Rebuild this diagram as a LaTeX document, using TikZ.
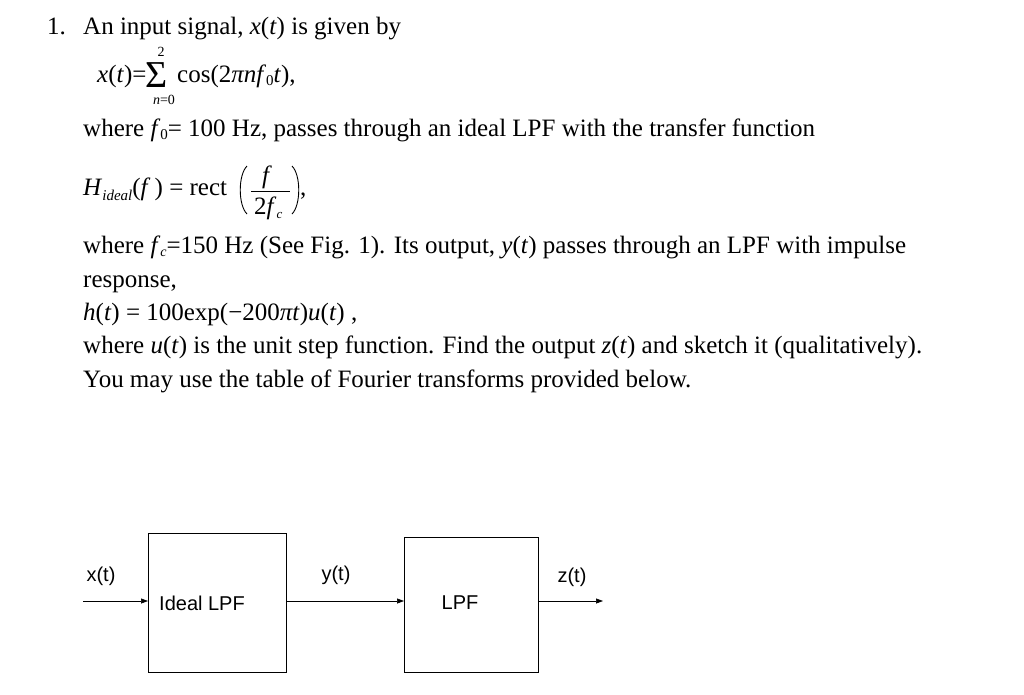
\documentclass[tikz,border=0pt]{standalone}
\usepackage{fontspec}
\setmainfont{Liberation Serif}
\setsansfont{Liberation Sans}
\usetikzlibrary{arrows.meta}
\begin{document}
\begin{tikzpicture}[x=1pt,y=-1pt,
  txt/.style={anchor=base west,inner sep=0pt,font=\fontsize{25}{29}\selectfont},
  sm/.style={anchor=base,inner sep=0pt,font=\fontsize{14}{16}\selectfont\itshape},
  blk/.style={draw,line width=0.7pt},
  lab/.style={inner sep=0pt,font=\sffamily\fontsize{20}{23}\selectfont},
  arr/.style={line width=0.7pt,-{Triangle[length=7pt,width=5pt]}}]
\useasboundingbox (0,0) rectangle (1024,694);
\node[txt] (n1) at (47,34) {1.};
\node[txt] (l1) at (83,34) {An input signal, \textit{x}(\textit{t}) is given by};
\node[txt] (l2a) at (97,82) {\textit{x}(\textit{t})=};
\node[anchor=base west,inner sep=0pt,font=\fontsize{38}{38}\selectfont] (sig) at (145,87) {Σ};
\node[sm] (up) at (161,56) {\upshape 2};
\node[sm] (lo) at (164,104) {n\upshape =0};
\node[txt] (l2b) at (177,82) {cos(2\textit{πnf}\raisebox{-0.3ex}{\fontsize{15}{15}\selectfont 0}\textit{t}),};
\node[txt] (l3) at (83,136) {where \textit{f}\raisebox{-0.3ex}{\fontsize{15}{15}\selectfont 0}= 100 Hz, passes through an ideal LPF with the transfer function};
\node[txt] (l4a) at (83,195) {\textit{H}\raisebox{-0.5ex}{\fontsize{15}{15}\selectfont\itshape ideal}(\textit{f}\,) = rect};
\draw[line width=0.9pt] (247,166) .. controls (238,175) and (238,205) .. (247,214);
\draw[line width=0.9pt] (292,166) .. controls (301,175) and (301,205) .. (292,214);
\node[txt] (fr1) at (262,183) {\textit{f}};
\draw[line width=0.7pt] (251,191) -- (290,191);
\node[txt] (fr2) at (254,214) {2\textit{f}\raisebox{-0.4ex}{\fontsize{13}{13}\selectfont\itshape c}};
\node[txt] (cm) at (300,195) {,};
\node[txt] (l5) at (83,253) {where \textit{f}\raisebox{-0.3ex}{\fontsize{14}{14}\selectfont\itshape c}=150 Hz (See Fig. 1). Its output, \textit{y}(\textit{t}) passes through an LPF with impulse};
\node[txt] (l6) at (83,287) {response,};
\node[txt] (l7) at (83,320) {\textit{h}(\textit{t}) = 100exp(−200\textit{πt})\textit{u}(\textit{t}) ,};
\node[txt] (l8) at (83,353) {where \textit{u}(\textit{t}) is the unit step function. Find the output \textit{z}(\textit{t}) and sketch it (qualitatively).};
\node[txt] (l9) at (83,387) {You may use the table of Fourier transforms provided below.};
% block diagram
\draw[blk] (148,533) rectangle (286,672);
\draw[blk] (404,537) rectangle (538,672);
\coordinate (in) at (83,601);
\coordinate (b1l) at (148,601);
\coordinate (b1r) at (286,601);
\coordinate (b2l) at (404,601);
\coordinate (b2r) at (538,601);
\coordinate (out) at (603,601);
\draw[arr] (in) -- (b1l);
\draw[arr] (b1r) -- (b2l);
\draw[arr] (b2r) -- (out);
\node[lab] (xt) at (101,576) {x(t)};
\node[lab] (il) at (202,603) {Ideal LPF};
\node[lab] (yt) at (336,575) {y(t)};
\node[lab] (lp) at (460,603) {LPF};
\node[lab] (zt) at (572,577) {z(t)};
\end{tikzpicture}
\end{document}
